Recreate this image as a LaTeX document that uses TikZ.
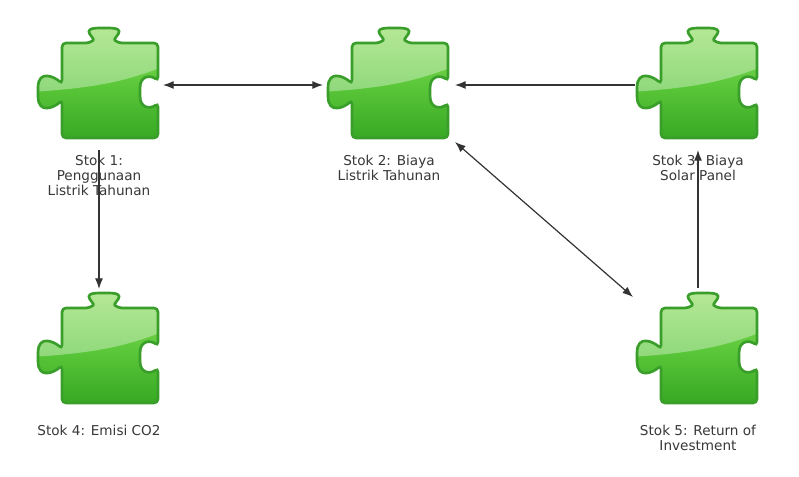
\documentclass[tikz,border=0pt]{standalone}
\usepackage{fontspec}
\setmainfont{DejaVu Sans}
\usetikzlibrary{arrows.meta}
\definecolor{pborder}{HTML}{3A9E2A}
\definecolor{ptop}{HTML}{8EDC5E}
\definecolor{pmid}{HTML}{5CC83A}
\definecolor{pbot}{HTML}{38A824}
\tikzset{
  piece/.pic={
    \begin{scope}[yscale=-1]
    \def\pp{(-38,49) -- (-10,49) .. controls (-4,54) and (-22,64) .. (4,64) .. controls (30,64) and (12,54) .. (18,49)
      -- (58,49) -- (58,11) .. controls (52,16) and (40,18) .. (40,0) .. controls (40,-18) and (52,-16) .. (58,-11)
      -- (58,-46) -- (-38,-46) -- (-38,-8) .. controls (-44,-14) and (-62,-24) .. (-62,0) .. controls (-62,24) and (-44,14) .. (-38,8) -- cycle}
    \path[rounded corners=3pt, top color=ptop, bottom color=pbot, middle color=pmid] \pp;
    \begin{scope}
      \clip[rounded corners=3pt] \pp;
      \fill[white,opacity=0.35] (-70,70) -- (70,70) -- (70,28) .. controls (30,12) and (0,4) .. (-70,0) -- cycle;
    \end{scope}
    \draw[draw=pborder, line width=2pt, rounded corners=3pt] \pp;
    \end{scope}
  },
  lbl/.style={font=\fontsize{10.2pt}{11.4pt}\selectfont, text=black!78, align=center, anchor=north},
  box/.style={minimum width=124, minimum height=104, inner sep=0},
  arr/.style={-{Latex[length=8pt,width=6pt]}, line width=0.9pt, draw=black!80},
  darr/.style={{Latex[length=8pt,width=6pt]}-{Latex[length=8pt,width=6pt]}, line width=0.9pt, draw=black!80}
}
\begin{document}
\begin{tikzpicture}[x=0.75pt,y=-0.75pt]
\useasboundingbox[fill=white] (0,0) rectangle (799,477);
\pic at (100,92) {piece};
\pic at (390,92) {piece};
\pic at (699,92) {piece};
\pic at (100,357) {piece};
\pic at (699,357) {piece};
\node[box] (p1) at (101,90) {};
\node[box] (p2) at (391,90) {};
\node[box] (p3) at (700,90) {};
\node[box] (p4) at (101,355) {};
\node[box] (p5) at (700,355) {};
\node[lbl] (t1) at (99,150) {Stok 1:\\Penggunaan\\Listrik Tahunan};
\node[lbl] (t2) at (389,150) {Stok 2: Biaya\\Listrik Tahunan};
\node[lbl] (t3) at (698,150) {Stok 3: Biaya\\Solar Panel};
\node[lbl] (t4) at (99,420) {Stok 4: Emisi CO2};
\node[lbl] (t5) at (698,420) {Stok 5: Return of\\Investment};
\coordinate (a1) at (163,85); \coordinate (a2) at (323,85);
\coordinate (b1) at (635,85); \coordinate (b2) at (455,85);
\coordinate (c1) at (99,150); \coordinate (c2) at (99,289);
\coordinate (d1) at (455,142); \coordinate (d2) at (633,297);
\coordinate (e1) at (698,288); \coordinate (e2) at (698,150);
\draw[darr] (a1) -- (a2);
\draw[arr] (b1) -- (b2);
\draw[arr] (c1) -- (c2);
\draw[darr] (d1) -- (d2);
\draw[arr] (e1) -- (e2);
\end{tikzpicture}
\end{document}
